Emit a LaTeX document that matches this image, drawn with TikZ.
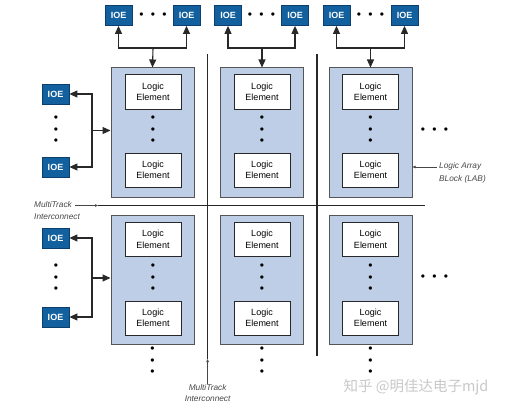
\documentclass[tikz,border=0pt]{standalone}
\usepackage{fontspec}
\setmainfont{Liberation Sans}
\newfontfamily\cjkfont{Noto Sans CJK SC}
\usetikzlibrary{arrows.meta}

\definecolor{ioefill}{RGB}{18,96,158}
\definecolor{ioeedge}{RGB}{12,62,112}
\definecolor{labfill}{RGB}{190,206,230}
\definecolor{labedge}{RGB}{85,85,85}
\definecolor{wiregray}{RGB}{40,40,40}
\definecolor{notegray}{RGB}{70,70,70}
\definecolor{markgray}{RGB}{200,200,200}

\begin{document}
\begin{tikzpicture}[x=1pt,y=-1pt,>={Triangle[length=8pt,width=7pt]}]
    \useasboundingbox (0,0) rectangle (505,409);

        % logic array blocks
        \begin{scope}[every node/.style={draw=labedge,fill=labfill,line width=1pt,minimum width=83pt,minimum height=129pt,inner sep=0pt}]
            \node (lab1) at (152.5,132.5) {};
            \node (lab2) at (262,132.5) {};
            \node (lab3) at (370.5,132.5) {};
            \node (lab4) at (152.5,279.5) {};
            \node (lab5) at (262,279.5) {};
            \node (lab6) at (370.5,279.5) {};
        \end{scope}

        % logic elements
        \begin{scope}[every node/.style={draw=wiregray,fill=white,line width=1pt,minimum width=56pt,minimum height=34pt,inner sep=0pt,align=center,font=\fontsize{9}{11.5}\selectfont}]
            \node (le1a) at (153,92) {Logic\\Element};
            \node (le1b) at (153,170) {Logic\\Element};
            \node (le2a) at (262,92) {Logic\\Element};
            \node (le2b) at (262,170) {Logic\\Element};
            \node (le3a) at (370.5,92) {Logic\\Element};
            \node (le3b) at (370.5,170) {Logic\\Element};
            \node (le4a) at (153,239.5) {Logic\\Element};
            \node (le4b) at (153,318) {Logic\\Element};
            \node (le5a) at (262,239.5) {Logic\\Element};
            \node (le5b) at (262,318) {Logic\\Element};
            \node (le6a) at (370.5,239.5) {Logic\\Element};
            \node (le6b) at (370.5,318) {Logic\\Element};
        \end{scope}

        % I/O elements
        \begin{scope}[every node/.style={draw=ioeedge,fill=ioefill,text=white,line width=0.8pt,minimum width=27pt,minimum height=20pt,inner sep=0pt,font=\bfseries\fontsize{9}{11}\selectfont}]
            \node (t1a) at (118.5,15.5) {IOE};
            \node (t1b) at (186.5,15.5) {IOE};
            \node (t2a) at (228,15.5) {IOE};
            \node (t2b) at (295,15.5) {IOE};
            \node (t3a) at (336.5,15.5) {IOE};
            \node (t3b) at (404.5,15.5) {IOE};
            \node (l1a) at (55.5,94) {IOE};
            \node (l1b) at (55.5,167) {IOE};
            \node (l2a) at (55.5,238) {IOE};
            \node (l2b) at (55.5,317) {IOE};
        \end{scope}

        % dots
        \begin{scope}[every node/.style={inner sep=0pt,align=center,font=\fontsize{12}{11.5}\selectfont}]
            \node (hd1) at (153,15.5) {•\hspace{7.3pt}•\hspace{7.3pt}•};
            \node (hd2) at (261.5,15.5) {•\hspace{7.3pt}•\hspace{7.3pt}•};
            \node (hd3) at (370.5,15.5) {•\hspace{7.3pt}•\hspace{7.3pt}•};
            \node (hd4) at (434.5,130.5) {•\hspace{7.3pt}•\hspace{7.3pt}•};
            \node (hd5) at (434.5,278) {•\hspace{7.3pt}•\hspace{7.3pt}•};
            \node (vd1) at (56,130.5) {•\\•\\•};
            \node (vd2) at (56,278.5) {•\\•\\•};
            \node (vd3) at (153,130.5) {•\\•\\•};
            \node (vd4) at (262,130.5) {•\\•\\•};
            \node (vd5) at (370.5,130.5) {•\\•\\•};
            \node (vd6) at (153,278.5) {•\\•\\•};
            \node (vd7) at (262,278.5) {•\\•\\•};
            \node (vd8) at (370.5,278.5) {•\\•\\•};
            \node (vd9) at (152.5,361.5) {•\\•\\•};
            \node (vd10) at (262,361.5) {•\\•\\•};
            \node (vd11) at (370.5,361.5) {•\\•\\•};
        \end{scope}

        % labels
        \begin{scope}[every node/.style={inner sep=0pt,text=notegray,font=\itshape\fontsize{8.3}{11.5}\selectfont}]
            \node[anchor=north west,align=left] (mta) at (34,201.5) {MultiTrack\\Interconnect};
            \node[anchor=north,align=center] (mtb) at (207.6,384) {MultiTrack\\Interconnect};
            \node[anchor=north west,align=left,font=\itshape\fontsize{8.3}{13}\selectfont] (labname) at (439,162.5) {Logic Array\\BLock (LAB)};
            \node[text=markgray,font=\cjkfont\fontsize{14.5}{16}\selectfont] (mark) at (416,387) {知乎 @明佳达电子mjd};
        \end{scope}

        % interconnect wires
        \coordinate (h0) at (98,205.5);
        \coordinate (h1) at (425,205.5);
        \coordinate (v1top) at (207.6,54);
        \coordinate (v1end) at (207.6,359);
        \coordinate (v2top) at (317,54);
        \coordinate (v2end) at (317,356);
        \begin{scope}[every path/.style={draw=wiregray,line width=1.4pt}]
            \path (h0) -- (h1);
            \path (v1top) -- (v1end);
            \path (v2top) -- (v2end);
        \end{scope}

        % pointers of the labels
        \coordinate (mtaend) at (75,205.5);
        \coordinate (labptr) at (437,167);
        \begin{scope}[every path/.style={draw=notegray,line width=0.6pt},>={Triangle[length=3pt,width=2.5pt]}]
            \path [->] (mtaend) -- (h0);
            \path [->] (mtb.north) -- (v1end);
            \path [->] (labptr) -- (labptr -| lab3.east);
        \end{scope}

        % connections between IOEs and blocks
        \coordinate (j1) at (153,48);
        \coordinate (j2) at (262,48);
        \coordinate (j3) at (370.5,48);
        \coordinate (j4) at (92,130.5);
        \coordinate (j5) at (92,278);
        \begin{scope}[every path/.style={draw=wiregray,line width=1.1pt}]
            \path [<->] (t1a.south) |- (j1) -| (t1b.south);
            \path [->] (j1) -- (lab1.north);
            \path [<->] (t2a.south) |- (j2) -| (t2b.south);
            \path [->] (j2) -- (lab2.north);
            \path [<->] (t3a.south) |- (j3) -| (t3b.south);
            \path [->] (j3) -- (lab3.north);
            \path [<->] (l1a.east) -| (j4) |- (l1b.east);
            \path [->] (j4) -- (j4 -| lab1.west);
            \path [<->] (l2a.east) -| (j5) |- (l2b.east);
            \path [->] (j5) -- (j5 -| lab4.west);
        \end{scope}

    \end{tikzpicture}
\end{document}
